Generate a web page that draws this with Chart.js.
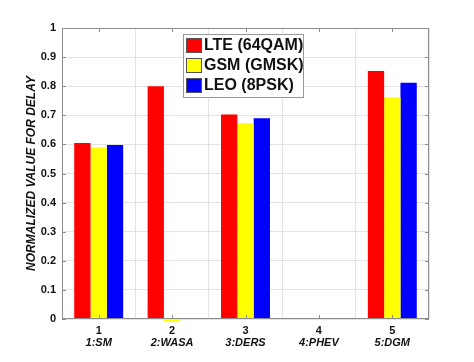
<!DOCTYPE html>
<html>
<head>
<meta charset="utf-8">
<script src="https://cdn.jsdelivr.net/npm/chart.js@4"></script>
<style>
  html, body { margin: 0; padding: 0; background: #fff; }
  #wrap { width: 474px; height: 362px; position: relative; }
</style>
</head>
<body>
<div id="wrap"><canvas id="chart"></canvas></div>
<script>
const categories = ['1', '2', '3', '4', '5'];
const categoryNames = ['1:SM', '2:WASA', '3:DERS', '4:PHEV', '5:DGM'];
const lteValues = [0.605, 0.80, 0.703, 0, 0.852];
const gsmValues = [0.589, -0.008, 0.673, 0, 0.762];
const leoValues = [0.598, 0, 0.690, 0, 0.812];
const yTicks = [0, 0.1, 0.2, 0.3, 0.4, 0.5, 0.6, 0.7, 0.8, 0.9, 1];

const axisColor = '#8c8c8c';
const gridColor = '#e3e3e3';

// MATLAB style box, inward ticks and legend inside the axes
const boxPlugin = {
    id: 'boxPlugin',
    afterDatasetsDraw(chart) {
        const { ctx, chartArea: a, scales } = chart;
        ctx.save();
        ctx.strokeStyle = axisColor;
        ctx.lineWidth = 1;
        ctx.strokeRect(a.left + 0.5, a.top + 0.5, a.right - a.left - 1, a.bottom - a.top - 1);
        ctx.beginPath();
        yTicks.forEach(v => {
            const y = Math.round(scales.y.getPixelForValue(v)) + 0.5;
            ctx.moveTo(a.left, y); ctx.lineTo(a.left + 4, y);
            ctx.moveTo(a.right, y); ctx.lineTo(a.right - 4, y);
        });
        categories.forEach((c, i) => {
            const x = Math.round(scales.x.getPixelForValue(i)) + 0.5;
            ctx.moveTo(x, a.bottom); ctx.lineTo(x, a.bottom - 4);
            ctx.moveTo(x, a.top); ctx.lineTo(x, a.top + 4);
        });
        ctx.stroke();

        // legend
        const lx = a.left + 121, ly = a.top + 6, lw = 120, lh = 63;
        ctx.fillStyle = '#fff';
        ctx.fillRect(lx, ly, lw, lh);
        ctx.strokeStyle = '#999';
        ctx.strokeRect(lx + 0.5, ly + 0.5, lw, lh);
        ctx.font = 'bold 16px "Liberation Sans", Arial, sans-serif';
        ctx.textBaseline = 'middle';
        chart.data.datasets.forEach((ds, i) => {
            const sy = ly + 4 + i * 20;
            ctx.fillStyle = ds.backgroundColor;
            ctx.fillRect(lx + 3, sy, 16, 15);
            ctx.strokeStyle = '#555';
            ctx.strokeRect(lx + 3.5, sy + 0.5, 15, 14);
            ctx.fillStyle = '#111';
            ctx.fillText(ds.label, lx + 21, sy + 8);
        });
        ctx.restore();
    }
};

new Chart(document.getElementById('chart'), {
    type: 'bar',
    data: {
        labels: categories,
        datasets: [
            { label: 'LTE (64QAM)', data: lteValues, backgroundColor: '#ff0000' },
            { label: 'GSM (GMSK)', data: gsmValues, backgroundColor: '#ffff00', clip: false },
            { label: 'LEO (8PSK)', data: leoValues, backgroundColor: '#0000ff' }
        ]
    },
    options: {
        responsive: true,
        maintainAspectRatio: false,
        animation: false,
        layout: { padding: { left: 0, right: 45, top: 28, bottom: 10 } },
        datasets: { bar: { categoryPercentage: 0.667, barPercentage: 1, borderWidth: 0 } },
        scales: {
            x: {
                type: 'category',
                offset: true,
                grid: { color: gridColor, drawTicks: false },
                border: { display: false },
                ticks: {
                    color: '#111',
                    padding: 5,
                    font: { family: '"Liberation Sans", Arial, sans-serif', size: 11, weight: 'bold' }
                },
                afterFit: s => { s.height = 17; }
            },
            x2: {
                type: 'category',
                position: 'bottom',
                labels: categoryNames,
                offset: true,
                grid: { display: false, drawTicks: false },
                border: { display: false },
                ticks: {
                    color: '#111',
                    padding: 0,
                    font: { family: '"Liberation Sans", Arial, sans-serif', size: 11, weight: 'bold', style: 'italic' }
                },
                afterFit: s => { s.height = 16; }
            },
            y: {
                min: 0,
                max: 1,
                afterBuildTicks: s => { s.ticks = yTicks.map(v => ({ value: v })); },
                grid: { color: gridColor, drawTicks: false },
                border: { display: false },
                ticks: {
                    color: '#111',
                    padding: 6,
                    callback: v => String(v),
                    font: { family: '"Liberation Sans", Arial, sans-serif', size: 11, weight: 'bold' }
                },
                title: {
                    display: true,
                    text: 'NORMALIZED VALUE FOR DELAY',
                    color: '#111',
                    padding: { top: 24, bottom: 0 },
                    font: { family: '"Liberation Sans", Arial, sans-serif', size: 12, weight: 'bold', style: 'italic' }
                },
                afterFit: s => { s.width = 62; }
            }
        },
        plugins: {
            legend: { display: false },
            tooltip: { enabled: false }
        }
    },
    plugins: [boxPlugin]
});
</script>
</body>
</html>
